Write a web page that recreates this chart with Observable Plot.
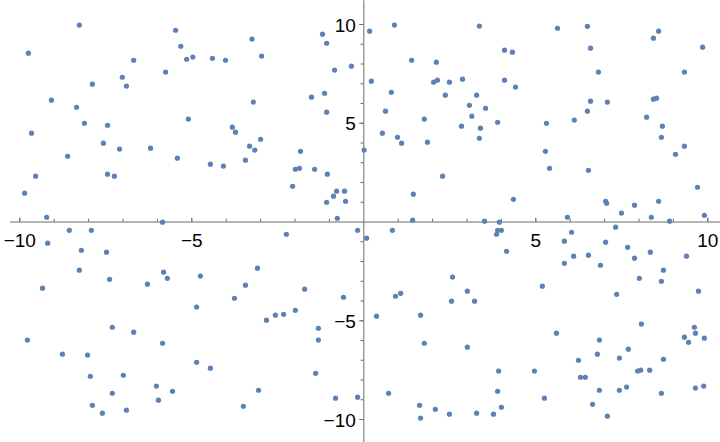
<!DOCTYPE html>
<html>
<head>
<meta charset="utf-8">
<script src="https://cdn.jsdelivr.net/npm/d3@7"></script>
<script src="https://cdn.jsdelivr.net/npm/@observablehq/plot@0.6"></script>
<style>
  html, body { margin: 0; padding: 0; background: #fff; }
  #chart svg { display: block; }
</style>
</head>
<body>
<div id="chart"></div>
<script>
// Point coordinates
const xs = [
  -8.27,-5.47,-5.32,-9.75,-6.69,-5.76,-7.02,-7.89,-6.90,-9.08,-8.35,-8.12,-7.45,-9.66,-7.57,-7.10,-6.20,-8.61,-5.42,-9.54,-7.45,-7.25,-9.86,-9.22,-5.85,
  -5.15,-4.97,-4.40,-4.02,-3.25,-2.97,-1.20,-1.08,-0.85,-0.36,-1.52,-1.14,-3.21,-1.08,-5.10,-3.82,-3.73,-3.00,-3.32,-3.17,-1.84,0.01,-4.46,-4.08,-3.44,-1.99,-1.87,-1.43,-1.06,-2.07,-0.79,-0.56,-0.88,-1.08,-0.53,-0.77,
  0.17,0.89,3.36,4.09,4.32,1.39,2.11,0.22,2.03,2.14,2.49,2.87,4.09,4.41,0.80,2.37,3.28,3.07,3.54,0.63,3.14,1.76,2.84,3.39,3.89,0.54,0.98,1.10,1.85,3.36,2.29,1.44,4.35,1.42,3.51,3.94,
  5.63,6.50,8.57,8.42,6.59,9.85,6.82,9.32,6.59,7.08,8.42,8.51,6.50,6.12,5.31,8.22,8.68,8.65,9.32,9.06,5.28,5.40,6.53,9.70,7.03,7.06,7.87,8.57,7.49,5.92,8.36,9.90,8.89,
  -8.56,-7.92,-9.19,-8.21,-7.48,-8.27,-7.39,-9.34,-6.29,-5.82,-5.71,-7.31,-6.69,-9.78,-5.85,-8.76,-8.03,-7.95,-6.99,-6.03,-5.56,-7.31,-5.97,-7.89,-7.60,-6.90,
  -0.18,0.08,-2.25,-3.09,-4.75,-3.44,-3.76,-4.86,-1.72,-0.59,-2.83,-2.57,-2.33,-1.99,-1.32,-1.32,-4.86,-4.46,-1.40,-3.06,-3.50,-0.82,-0.18,
  0.83,3.89,4.00,3.86,4.15,2.58,3.01,0.92,1.07,2.55,3.22,0.37,1.65,1.76,3.01,3.92,4.96,0.72,3.89,1.62,2.08,4.00,1.65,2.49,3.28,3.77,
  7.32,6.04,5.83,7.03,8.33,7.67,9.38,6.10,6.53,7.87,5.83,6.88,8.71,8.65,8.01,5.19,7.35,9.73,8.07,9.61,9.64,9.32,9.44,9.90,5.60,6.85,6.79,7.69,7.43,6.24,8.71,6.30,6.44,7.96,8.05,8.31,6.85,7.43,7.64,9.64,9.88,8.65,5.25,6.65,7.08
];
const ys = [
  9.97,9.71,8.90,8.55,8.19,7.59,7.33,6.98,6.88,6.17,5.81,5.00,4.90,4.50,3.99,3.69,3.74,3.33,3.23,2.32,2.42,2.32,1.46,0.24,-0.01,
  8.24,8.35,8.29,8.19,9.26,8.40,9.51,9.05,7.69,7.89,6.32,6.52,6.07,5.56,5.21,4.80,4.55,4.19,3.84,3.64,3.58,3.64,2.93,2.83,3.13,2.67,2.72,2.67,2.42,1.81,1.56,1.56,1.31,1.00,1.05,0.19,
  9.66,9.97,9.92,8.70,8.60,8.19,8.09,7.13,7.08,7.18,7.08,7.23,7.18,6.83,6.57,6.42,6.42,5.91,5.76,5.61,5.36,5.21,4.85,4.75,5.05,4.50,4.29,3.99,4.04,4.24,2.32,1.41,1.15,0.09,0.04,-0.01,
  9.81,9.91,9.66,9.31,8.80,8.85,7.59,7.59,6.12,6.07,6.22,6.27,5.61,5.16,5.00,5.31,4.85,4.29,3.84,3.43,3.58,2.72,2.62,1.76,1.05,0.95,0.85,1.05,0.45,0.24,0.24,0.34,0.04,
  -0.42,-0.42,-1.07,-1.43,-1.53,-2.44,-2.90,-3.35,-3.15,-2.54,-2.85,-5.33,-5.58,-5.98,-6.14,-6.69,-6.74,-7.81,-7.76,-8.31,-8.57,-8.67,-9.02,-9.28,-9.68,-9.53,
  -0.42,-0.82,-0.62,-2.34,-2.74,-3.20,-3.86,-4.31,-3.40,-3.81,-4.97,-4.72,-4.67,-4.47,-5.38,-5.98,-7.10,-7.40,-7.66,-8.52,-9.33,-8.92,-8.87,
  -0.42,-0.42,-0.42,-0.62,-1.48,-2.79,-3.50,-3.76,-3.61,-4.01,-4.01,-4.77,-4.72,-6.14,-6.34,-7.55,-7.55,-8.67,-8.57,-9.28,-9.48,-9.38,-9.93,-9.73,-9.68,-9.73,
  -0.26,-0.52,-0.97,-1.02,-1.53,-1.28,-1.73,-1.73,-1.68,-1.83,-2.09,-2.19,-2.44,-3.00,-2.85,-3.25,-3.66,-3.50,-5.17,-5.33,-5.63,-5.83,-6.09,-5.88,-5.63,-5.98,-6.69,-6.44,-6.89,-7.00,-6.95,-7.86,-7.86,-7.55,-7.50,-7.50,-8.52,-8.52,-8.36,-8.41,-8.31,-8.67,-8.92,-9.23,-9.83
];
const minorTicks = [-10,-9,-8,-7,-6,-5,-4,-3,-2,-1,1,2,3,4,5,6,7,8,9,10];
const majorTicks = [-10,-5,5,10];
const majorLabels = ["\u221210","\u22125","5","10"];

const points = xs.map((x, i) => ({x, y: ys[i]}));
const labels = majorTicks.map((v, i) => ({v, label: majorLabels[i]}));

const axisColor = "#6b6b6b";
const pointColor = "#5E81B5";
const font = "'Liberation Sans', Arial, sans-serif";

const chart = Plot.plot({
  width: 720,
  height: 442,
  margin: 0,
  x: {domain: [-10, 10], range: [19.3, 707.3], axis: null},
  y: {domain: [-10, 10], range: [419, 24], axis: null},
  style: {fontFamily: font, background: "#fff"},
  marks: [
    // axes lines
    Plot.ruleY([0], {x1: -10.27, x2: 10.5, stroke: axisColor, strokeWidth: 1}),
    Plot.ruleX([0], {y1: -11.2, y2: 11.2, stroke: axisColor, strokeWidth: 1}),
    // x ticks (upward)
    Plot.ruleX(minorTicks, {y1: 0, y2: 0.14, stroke: axisColor, strokeWidth: 1}),
    Plot.ruleX(majorTicks, {y1: 0, y2: 0.2, stroke: axisColor, strokeWidth: 1}),
    // y ticks (leftward)
    Plot.ruleY(minorTicks, {x1: 0, x2: -0.08, stroke: axisColor, strokeWidth: 1}),
    Plot.ruleY(majorTicks, {x1: 0, x2: -0.12, stroke: axisColor, strokeWidth: 1}),
    // tick labels
    Plot.text(labels, {x: "v", y: 0, text: "label", dy: 19, fontSize: 19, fill: "#000", textAnchor: "middle"}),
    Plot.text(labels, {x: 0, y: "v", text: "label", dx: -8, dy: 1, fontSize: 19, fill: "#000", textAnchor: "end"}),
    // points
    Plot.dot(points, {x: "x", y: "y", r: 2.6, fill: pointColor, stroke: "none"})
  ]
});
document.getElementById("chart").appendChild(chart);
</script>
</body>
</html>
